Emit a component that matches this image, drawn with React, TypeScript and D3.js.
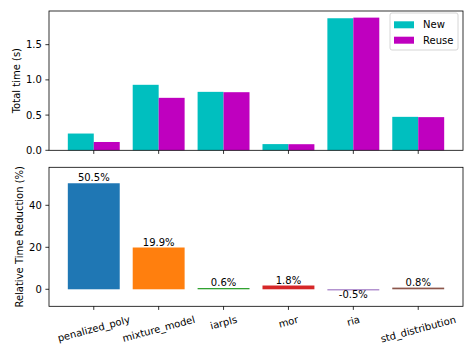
import React, { useEffect, useRef } from "react";
import * as d3 from "d3";

const categories = ["penalized_poly", "mixture_model", "iarpls", "mor", "ria", "std_distribution"];
const newTimes = [0.238, 0.93, 0.83, 0.088, 1.875, 0.475];
const reuseTimes = [0.118, 0.745, 0.825, 0.0865, 1.884, 0.471];
const reductionPct = [50.5, 19.9, 0.6, 1.8, -0.5, 0.8];
const topTicks = [0.0, 0.5, 1.0, 1.5];
const bottomTicks = [0, 20, 40];
const seriesNames = ["New", "Reuse"];
const seriesColors = ["#00bfbf", "#bf00bf"];
const reductionColors = ["#1f77b4", "#ff7f0e", "#2ca02c", "#d62728", "#9467bd", "#8c564b"];

const W = 474;
const H = 355;
const FONT = "DejaVu Sans";
const FS = 10;

export default function App() {
  const ref = useRef<SVGSVGElement | null>(null);

  useEffect(() => {
    const svg = d3.select(ref.current);
    svg.selectAll("*").remove();

    const left = 49, right = 463;
    const topPanel = { y0: 11, y1: 150.3 };
    const botPanel = { y0: 167.3, y1: 306.3 };
    const tickLen = 3.6, pad = 3.6;

    const idx = categories.map((_, i) => i);
    const x = d3.scaleLinear().domain([-0.69, 5.69]).range([left, right]);
    const yTop = d3.scaleLinear().domain([0, 1.978]).range([topPanel.y1, topPanel.y0]);
    const yBot = d3.scaleLinear().domain([-8.1, 58.1]).range([botPanel.y1, botPanel.y0]);

    const g = svg.append("g").attr("font-family", FONT).attr("font-size", FS);

    // ---------- Top panel ----------
    const halfW = 0.4;
    [newTimes, reuseTimes].forEach((vals, s) => {
      g.append("g")
        .selectAll("rect")
        .data(vals)
        .join("rect")
        .attr("x", (_, i) => x(i - halfW + s * halfW))
        .attr("width", x(halfW) - x(0))
        .attr("y", (d) => yTop(d))
        .attr("height", (d) => yTop(0) - yTop(d))
        .attr("fill", seriesColors[s]);
    });

    const drawFrame = (y0: number, y1: number) => {
      g.append("rect")
        .attr("x", left)
        .attr("y", y0)
        .attr("width", right - left)
        .attr("height", y1 - y0)
        .attr("fill", "none")
        .attr("stroke", "#000")
        .attr("stroke-width", 0.8);
      g.append("g")
        .selectAll("line")
        .data(idx)
        .join("line")
        .attr("x1", (i) => x(i))
        .attr("x2", (i) => x(i))
        .attr("y1", y1)
        .attr("y2", y1 + tickLen)
        .attr("stroke", "#000")
        .attr("stroke-width", 0.8);
    };

    drawFrame(topPanel.y0, topPanel.y1);

    const yTicks = (scale: d3.ScaleLinear<number, number>, ticks: number[], fmt: (v: number) => string) => {
      const tg = g.append("g");
      tg.selectAll("line")
        .data(ticks)
        .join("line")
        .attr("x1", left - tickLen)
        .attr("x2", left)
        .attr("y1", (d) => scale(d))
        .attr("y2", (d) => scale(d))
        .attr("stroke", "#000")
        .attr("stroke-width", 0.8);
      tg.selectAll("text")
        .data(ticks)
        .join("text")
        .attr("x", left - tickLen - pad)
        .attr("y", (d) => scale(d))
        .attr("text-anchor", "end")
        .attr("dominant-baseline", "central")
        .attr("fill", "#000")
        .text((d) => fmt(d));
    };

    yTicks(yTop, topTicks, (v) => v.toFixed(1));

    g.append("text")
      .attr("transform", `translate(16.3, ${(topPanel.y0 + topPanel.y1) / 2}) rotate(-90)`)
      .attr("text-anchor", "middle")
      .attr("dominant-baseline", "central")
      .text("Total time (s)");

    // Legend
    const lg = g.append("g");
    lg.append("rect")
      .attr("x", 390)
      .attr("y", 13)
      .attr("width", 68)
      .attr("height", 37)
      .attr("rx", 2)
      .attr("fill", "#fff")
      .attr("fill-opacity", 0.8)
      .attr("stroke", "#cccccc")
      .attr("stroke-width", 0.8);
    seriesNames.forEach((name, s) => {
      const cy = 24.8 + s * 15.4;
      lg.append("rect")
        .attr("x", 394)
        .attr("y", cy - 3.5)
        .attr("width", 20)
        .attr("height", 7)
        .attr("fill", seriesColors[s]);
      lg.append("text")
        .attr("x", 423)
        .attr("y", cy)
        .attr("dominant-baseline", "central")
        .text(name);
    });

    // ---------- Bottom panel ----------
    g.append("g")
      .selectAll("rect")
      .data(reductionPct)
      .join("rect")
      .attr("x", (_, i) => x(i - 0.4))
      .attr("width", x(0.8) - x(0))
      .attr("y", (d) => yBot(Math.max(d, 0)))
      .attr("height", (d) => Math.abs(yBot(d) - yBot(0)))
      .attr("fill", (_, i) => reductionColors[i]);

    g.append("g")
      .selectAll("text")
      .data(reductionPct)
      .join("text")
      .attr("x", (_, i) => x(i))
      .attr("y", (d) => (d >= 0 ? yBot(d) - 2 : yBot(d) + 8))
      .attr("text-anchor", "middle")
      .text((d) => `${d.toFixed(1)}%`);

    drawFrame(botPanel.y0, botPanel.y1);
    yTicks(yBot, bottomTicks, (v) => String(v));

    g.append("text")
      .attr("transform", `translate(19, ${(botPanel.y0 + botPanel.y1) / 2}) rotate(-90)`)
      .attr("text-anchor", "middle")
      .attr("dominant-baseline", "central")
      .text("Relative Time Reduction (%)");

    // Rotated category labels
    const ang = (15 * Math.PI) / 180;
    const labTop = botPanel.y1 + tickLen + pad;
    categories.forEach((c, i) => {
      const t = g
        .append("text")
        .attr("text-anchor", "middle")
        .attr("dominant-baseline", "central")
        .text(c);
      const w = (t.node() as SVGTextElement).getComputedTextLength();
      const h = FS * 1.164;
      const bh = w * Math.sin(ang) + h * Math.cos(ang);
      t.attr("transform", `translate(${x(i)}, ${labTop + bh / 2}) rotate(-15)`);
    });
  }, []);

  return (
    <svg
      ref={ref}
      width={W}
      height={H}
      style={{ position: "absolute", left: 0, top: 0, background: "#fff" }}
    />
  );
}
